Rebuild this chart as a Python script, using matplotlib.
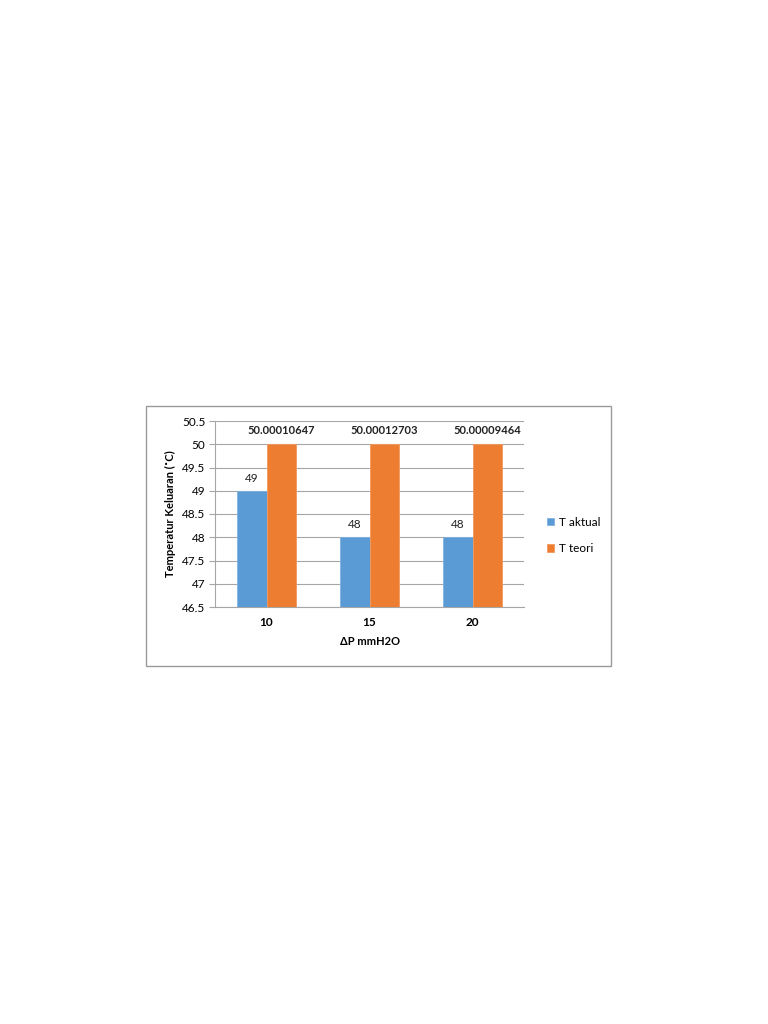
import matplotlib.pyplot as plt
import numpy as np
from matplotlib.patches import Rectangle

categories = ["10", "15", "20"]
t_aktual = [49, 48, 48]
t_teori = [50.00010647, 50.00012703, 50.00009464]
teori_labels = ["50.00010647", "50.00012703", "50.00009464"]
y_ticks = [46.5, 47, 47.5, 48, 48.5, 49, 49.5, 50, 50.5]

blue = "#5B9BD5"
orange = "#ED7D31"
grid_col = "#A6A6A6"

plt.rcParams['font.family'] = ['Lato', 'DejaVu Sans']

fig = plt.figure(figsize=(7.68, 10.24), dpi=100)

# outer chart frame
fig.patches.append(Rectangle((146 / 768, 1 - 666 / 1024), 465 / 768, 260 / 1024,
                             transform=fig.transFigure, fill=False,
                             edgecolor="#9A9A9A", linewidth=1))

ax = fig.add_axes([215 / 768, 1 - 607 / 1024, 309 / 768, 186 / 1024])

x = np.arange(len(categories))
w = 0.286
ax.bar(x - w / 2, np.array(t_aktual) - 46.5, w, bottom=46.5, color=blue,
       edgecolor="#7FB2E0", linewidth=0.6, label="T aktual", zorder=3)
ax.bar(x + w / 2, np.array(t_teori) - 46.5, w, bottom=46.5, color=orange,
       edgecolor="#F29A5E", linewidth=0.6, label="T teori", zorder=3)

for xi, v in zip(x, t_aktual):
    ax.annotate(str(v), (xi - w / 2, v), xytext=(0, 5), textcoords="offset points",
                ha="center", va="bottom", fontsize=8.5, color="#222222")
for xi, v, s in zip(x, t_teori, teori_labels):
    ax.annotate(s, (xi + w / 2, v), xytext=(0, 6), textcoords="offset points",
                ha="center", va="bottom", fontsize=8, fontweight="bold", color="#222222")

ax.set_xlim(-0.5, 2.5)
ax.set_ylim(46.5, 50.5)
ax.set_yticks(y_ticks)
ax.set_yticklabels([f"{t:g}" for t in y_ticks])
ax.set_xticks(x)
ax.set_xticklabels(categories, fontweight="bold")
ax.tick_params(axis="y", length=4, color=grid_col, labelsize=8.5, pad=3)
ax.tick_params(axis="x", length=0, labelsize=8.5, pad=7)
ax.grid(axis="y", color=grid_col, linewidth=0.8, zorder=0)
for side in ["top", "right"]:
    ax.spines[side].set_visible(False)
ax.spines["left"].set_color(grid_col)
ax.spines["bottom"].set_color(grid_col)
ax.set_xlabel("ΔP mmH2O", fontsize=8, fontweight="bold", labelpad=6)
ax.set_ylabel("Temperatur Keluaran (˚C)", fontsize=8, fontweight="bold", labelpad=4)

ax.legend(loc="center left", bbox_to_anchor=(1.04, 0.385), frameon=False, fontsize=8.5,
          handlelength=0.6, handleheight=0.6, handletextpad=0.4, labelspacing=1.3)

fig.savefig("out.png", dpi=100)
